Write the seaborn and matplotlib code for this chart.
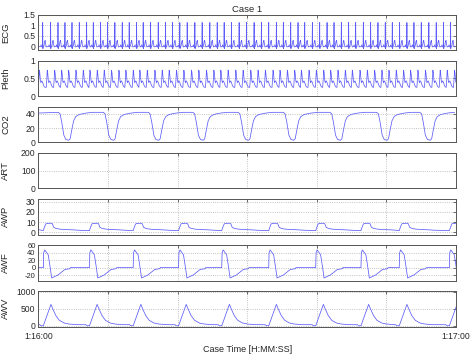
import numpy as np
import pandas as pd
import matplotlib
matplotlib.use('Agg')
import matplotlib.pyplot as plt
import seaborn as sns

# ---- data (time in seconds after 1:16:00) ----
ecg_r_times = [0.63, 1.77, 2.83, 3.83, 4.84, 5.89, 6.94, 7.90, 8.95, 9.95,
               11.00, 12.06, 13.06, 14.12, 15.07, 16.13, 17.23, 18.28, 19.28, 20.33,
               21.39, 22.49, 23.54, 24.64, 25.70, 26.70, 27.75, 28.85, 29.90, 31.00,
               32.05, 33.10, 34.20, 35.20, 36.26, 37.31, 38.27, 39.37, 40.42, 41.48,
               42.48, 43.53, 44.58, 45.59, 46.69, 47.74, 48.79, 49.84, 50.85, 51.90,
               52.95, 53.96, 55.01, 56.10, 57.16, 58.21, 59.22]
ecg_beat_dt = [-0.30, -0.22, -0.15, -0.04, 0.0, 0.03, 0.07, 0.18, 0.28, 0.36, 0.44, 0.52, 0.60]
ecg_beat_val = [-0.02, 0.06, -0.02, -0.06, 1.12, -0.12, -0.03, 0.0, 0.22, 0.27, 0.06, -0.04, -0.03]

pleth_peak_times = [0.15, 1.29, 2.35, 3.35, 4.36, 5.41, 6.46, 7.42, 8.47, 9.47,
                    10.52, 11.58, 12.58, 13.64, 14.59, 15.65, 16.75, 17.80, 18.80, 19.85,
                    20.91, 22.01, 23.06, 24.16, 25.22, 26.22, 27.27, 28.37, 29.42, 30.52,
                    31.57, 32.62, 33.72, 34.72, 35.78, 36.83, 37.79, 38.89, 39.94, 41.00,
                    42.00, 43.05, 44.10, 45.11, 46.21, 47.26, 48.31, 49.36, 50.37, 51.42,
                    52.47, 53.48, 54.53, 55.62, 56.68, 57.73, 58.74, 59.79]
pleth_beat_dt = [-0.15, -0.08, 0.0, 0.06, 0.15, 0.22, 0.30, 0.38, 0.50, 0.62, 0.75]
pleth_beat_val = [0.25, 0.45, 0.73, 0.66, 0.45, 0.38, 0.42, 0.43, 0.37, 0.30, 0.26]

breath_onsets = [0.72, 7.35, 13.63, 20.15, 26.35, 33.10, 39.85, 46.35, 51.85, 59.05]
co2_drop_times = [2.87, 9.33, 15.80, 22.20, 28.70, 35.20, 41.90, 48.60, 54.80]

co2_dt = [0.0, 0.25, 0.5, 0.8, 1.1, 1.5, 1.7, 1.95, 2.2, 2.5, 3.0, 4.0, 5.0]
co2_val = [42, 40, 28, 10, 4, 3, 5, 18, 30, 36, 39, 41, 42]

awp_dt = [0.0, 0.15, 0.35, 0.5, 1.1, 1.3, 1.5, 1.8, 2.4, 3.4, 4.4, 5.0]
awp_val = [1.8, 5.0, 8.3, 8.8, 9.0, 8.5, 5.0, 4.0, 3.2, 2.8, 2.5, 2.2]

awf_dt = [0.0, 0.05, 0.2, 0.7, 0.95, 1.2, 2.1, 3.1, 3.8, 3.9, 4.5]
awf_val = [0, 40, 48, 35, 5, -28, -20, -5, -3, 0, 0]

awv_dt = [-0.5, -0.35, 0.0, 1.1, 1.4, 1.8, 2.3, 3.0, 3.7, 4.5, 4.8]
awv_val = [30, 0, 0, 630, 480, 300, 160, 80, 50, 38, 32]

# value at the left edge, before the first mark of each trace
lead_t = [0.0]
ecg_lead, pleth_lead = [-0.02], [0.25]
co2_lead, awp_lead, awf_lead, awv_lead = [41], [2.8], [0], [40]

names = ['ECG', 'Pleth', 'CO2', 'ART', 'AWP', 'AWF', 'AWV']
ylims = [(-0.2, 1.5), (0, 1), (0, 50), (0, 200), (-2, 33), (-35, 62), (-25, 1030)]
yticks = [[0, 0.5, 1, 1.5], [0, 0.5, 1], [0, 20, 40], [0, 100, 200],
          [0, 10, 20, 30], [-20, 0, 20, 40, 60], [0, 500, 1000]]
ytlabels = [['0', '0.5', '1', '1.5'], ['0', '0.5', '1'], ['0', '20', '40'],
            ['0', '100', '200'], ['0', '10', '20', '30'],
            ['-20', '0', '20', '40', '60'], ['0', '500', '1000']]
xtick_pos = [0, 10, 20, 30, 40, 50, 60]
xtick_lab = ['1:16:00', '', '', '', '', '', '1:17:00']


def build(times, dts, vals, lead):
    xs = list(lead_t)
    ys = list(lead)
    for t in times:
        for d, v in zip(dts, vals):
            xs.append(t + d)
            ys.append(v)
    return pd.DataFrame({'t': xs, 'v': ys})


traces = {
    'ECG': build(ecg_r_times, ecg_beat_dt, ecg_beat_val, ecg_lead),
    'Pleth': build(pleth_peak_times, pleth_beat_dt, pleth_beat_val, pleth_lead),
    'CO2': build(co2_drop_times, co2_dt, co2_val, co2_lead),
    'AWP': build(breath_onsets, awp_dt, awp_val, awp_lead),
    'AWF': build(breath_onsets, awf_dt, awf_val, awf_lead),
    'AWV': build(breath_onsets, awv_dt, awv_val, awv_lead),
}

sns.set_style('white')
plt.rcParams['font.family'] = ['Liberation Sans', 'DejaVu Sans']

W, H = 474, 355
fig = plt.figure(figsize=(W / 100, H / 100), dpi=100)
line_col = (0.36, 0.36, 0.98)

for i, name in enumerate(names):
    top = 14.5 + 46.05 * i
    h = 35.8
    ax = fig.add_axes([38.3 / W, 1 - (top + h) / H, (456 - 38.3) / W, h / H])
    if name in traces:
        sns.lineplot(data=traces[name], x='t', y='v', ax=ax, color=line_col,
                     linewidth=0.55, estimator=None, sort=True)
    ax.set_xlim(0, 60)
    ax.set_ylim(*ylims[i])
    ax.set_yticks(yticks[i])
    ax.set_yticklabels(ytlabels[i])
    ax.set_xticks(xtick_pos)
    ax.set_ylabel(name, fontsize=6.8)
    ax.yaxis.set_label_coords(-0.067, 0.5)
    ax.grid(True, linestyle=':', color='#b0b0b0', linewidth=0.6)
    ax.tick_params(direction='in', length=2.5, width=0.5, top=True, right=True,
                   labelsize=6.2, pad=2, color='#333333')
    if name == 'AWF':
        ax.tick_params(axis='y', labelsize=5.4)
    if i == len(names) - 1:
        ax.set_xticklabels(xtick_lab)
        ax.tick_params(axis='x', pad=4)
        ax.set_xlabel('Case Time [H:MM:SS]', fontsize=6.5, labelpad=3)
    else:
        ax.set_xticklabels([])
        ax.set_xlabel('')
    for s in ax.spines.values():
        s.set_color('#555555')
        s.set_linewidth(0.7)
    if i == 0:
        ax.set_title('Case 1', fontsize=6.8, pad=2)

fig.savefig('out.png', dpi=100)
